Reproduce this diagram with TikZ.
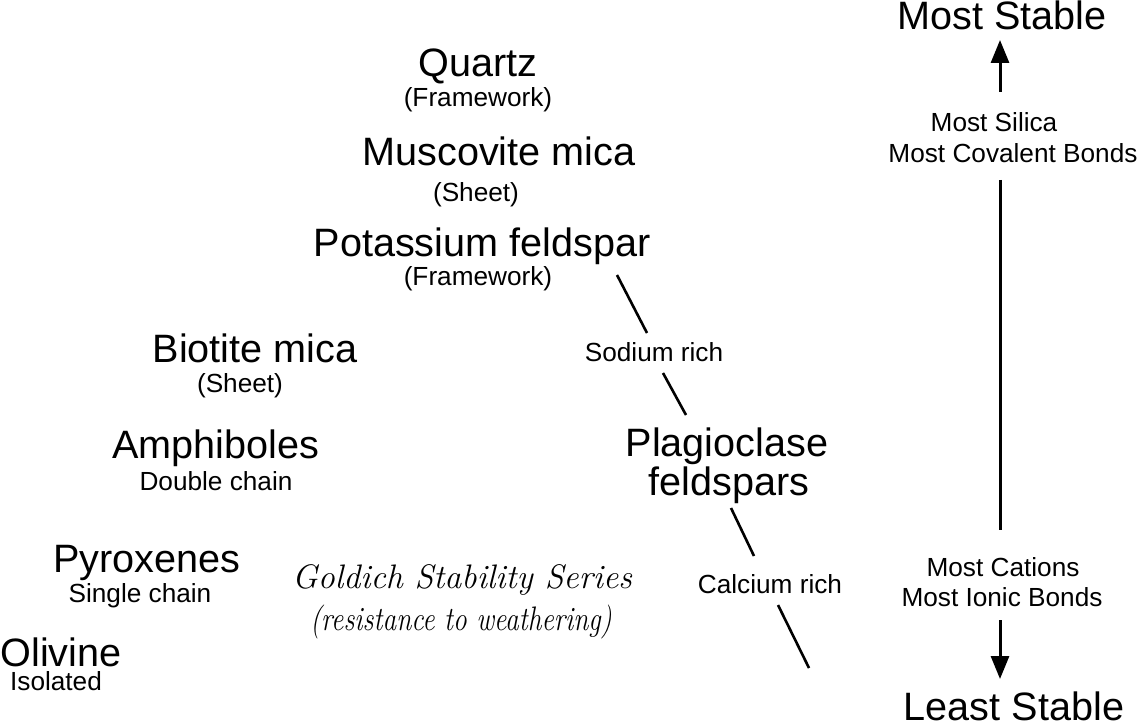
\documentclass[tikz,border=0pt]{standalone}
\usepackage{fontspec}
\newfontfamily\arialf{Liberation Sans}
\usetikzlibrary{arrows.meta}
\tikzset{
  big/.style={inner sep=0pt, anchor=base, font=\arialf\fontsize{39.6}{40}\selectfont},
  small/.style={inner sep=0pt, anchor=base, font=\arialf\fontsize{26.2}{27}\selectfont},
  gold/.style={inner sep=0pt, anchor=base, font=\itshape\fontsize{34}{36}\selectfont},
  seg/.style={line width=2.6pt},
  arr/.style={line width=3pt, -{Triangle[length=23pt,width=18pt]}},
  shaft/.style={line width=3pt}
}
\begin{document}
\begin{tikzpicture}[x=1pt,y=-1pt]
\useasboundingbox (0,0) rectangle (1140,722);
% minerals
\node[big]   (quartz) at (478,77)  {Quartz};
\node[small] (qfw)    at (478,107) {(Framework)};
\node[big]   (musc)   at (499,166) {Muscovite mica};
\node[small] (msh)    at (476,201) {(Sheet)};
\node[big]   (kfs)    at (482,256) {Potassium feldspar};
\node[small] (kfw)    at (478,285) {(Framework)};
\node[big]   (bio)    at (255,362) {Biotite mica};
\node[small] (bsh)    at (240,392) {(Sheet)};
\node[big]   (amph)   at (216,458) {Amphiboles};
\node[small] (dch)    at (216,490) {Double chain};
\node[big]   (pyx)    at (147,572) {Pyroxenes};
\node[small] (sch)    at (140,602) {Single chain};
\node[big]   (oliv)   at (61,666)  {Olivine};
\node[small] (iso)    at (56,690)  {Isolated};
% plagioclase branch
\node[small] (na)     at (654,361) {Sodium rich};
\node[big]   (plag1)  at (727,456) {Plagioclase};
\node[big]   (plag2)  at (729,495) {feldspars};
\node[small] (ca)     at (770,593) {Calcium rich};
% title
\node[gold] (gss) at (462,588) {Goldich Stability Series};
\node[gold] (rtw) at (461,630) {\scalebox{0.806}[1]{(resistance to weathering)}};
% right scale
\node[big]   (mstab)  at (1002,30)  {Most Stable};
\node[small] (msil)   at (994,132)  {Most Silica};
\node[small] (mcov)   at (1013,163) {Most Covalent Bonds};
\node[small] (mcat)   at (1003,576) {Most Cations};
\node[small] (mion)   at (1002,606) {Most Ionic Bonds};
\node[big]   (lstab)  at (1014,720) {Least Stable};
% segment coordinates
\coordinate (s1a) at (617,275); \coordinate (s1b) at (647,333);
\coordinate (s2a) at (663,373); \coordinate (s2b) at (686,415);
\coordinate (s3a) at (731,508); \coordinate (s3b) at (754,556);
\coordinate (s4a) at (778,605); \coordinate (s4b) at (809,668);
\draw[seg] (s1a) -- (s1b);
\draw[seg] (s2a) -- (s2b);
\draw[seg] (s3a) -- (s3b);
\draw[seg] (s4a) -- (s4b);
% arrows
\coordinate (t1) at (1000,92);  \coordinate (h1) at (1000,40);
\coordinate (m1) at (1000,180); \coordinate (m2) at (1000,530);
\coordinate (t2) at (1000,620); \coordinate (h2) at (1000,679);
\draw[arr] (t1) -- (h1);
\draw[shaft] (m1) -- (m2);
\draw[arr] (t2) -- (h2);
\end{tikzpicture}
\end{document}
